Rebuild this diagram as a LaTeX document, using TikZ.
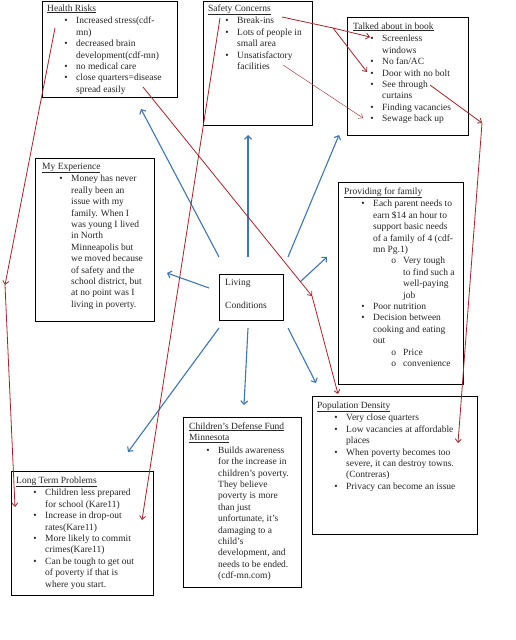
\documentclass[tikz,border=0pt]{standalone}
\usepackage{fontspec}
\setmainfont{Liberation Serif}
\usepackage{enumitem}
\usetikzlibrary{arrows.meta, shadows}
\definecolor{mapblue}{RGB}{62,118,176}
\definecolor{mapred}{RGB}{158,38,42}
\setlist[itemize]{nosep, leftmargin=29pt, labelsep=8.5pt}
\setlist[itemize,1]{label=\textbullet}
\setlist[itemize,2]{label=o, leftmargin=30pt, labelsep=7pt}
\newcommand{\boxtext}[2]{\begin{minipage}[t]{#1}\raggedright #2\end{minipage}}
\newcommand{\heading}[1]{\underline{#1}\par\vspace{1.5pt}}

\begin{document}
\begin{tikzpicture}[x=1pt, y=-1pt,
    box/.style={draw=black, line width=0.8pt, fill=white, anchor=north west,
      drop shadow={shadow xshift=1pt, shadow yshift=-1pt, fill=black!45, opacity=1}},
    notes/.style={inner sep=0pt, anchor=base west, font=\fontsize{9.5}{11.4}\selectfont, text=black!85},
    spoke/.style={draw=mapblue, line width=1.1pt, -{Straight Barb[length=3.5pt, width=7pt]}},
    link/.style={draw=mapred, line width=0.8pt, -{Straight Barb[length=3.5pt, width=6pt]}}]
  \useasboundingbox (0,0) rectangle (516,640);
  % boxes
  \node[box, minimum width=135pt, minimum height=96pt]  (health)   at (42,1)    {};
  \node[box, minimum width=109pt, minimum height=124pt] (safety)   at (203,1)   {};
  \node[box, minimum width=121pt, minimum height=118pt] (book)     at (347,17)  {};
  \node[box, minimum width=119pt, minimum height=163pt] (exper)    at (35,158)  {};
  \node[box, minimum width=125pt, minimum height=202pt] (provide)  at (338,182) {};
  \node[box, minimum width=64pt,  minimum height=46pt]  (living)   at (219,274) {};
  \node[box, minimum width=142pt, minimum height=124pt] (longterm) at (11,471)  {};
  \node[box, minimum width=118pt, minimum height=170pt] (cdf)      at (183,417) {};
  \node[box, minimum width=165pt, minimum height=138pt] (popul)    at (312,396) {};
  % texts
  \node[notes] (health-t) at (47,11) {\boxtext{150pt}{\heading{Health Risks}
    \begin{itemize}
      \item Increased stress(cdf-\\mn)
      \item decreased brain\\development(cdf-mn)
      \item no medical care
      \item close quarters=disease\\spread easily
    \end{itemize}}};
  \node[notes] (safety-t) at (208,11) {\boxtext{120pt}{\heading{Safety Concerns}
    \begin{itemize}
      \item Break-ins
      \item Lots of people in\\small area
      \item Unsatisfactory\\facilities
    \end{itemize}}};
  \node[notes] (book-t) at (353,29) {\boxtext{130pt}{\heading{Talked about in book}
    \begin{itemize}
      \item Screenless\\windows
      \item No fan/AC
      \item Door with no bolt
      \item See through\\curtains
      \item Finding vacancies
      \item Sewage back up
    \end{itemize}}};
  \node[notes] (exper-t) at (42,169) {\boxtext{130pt}{\heading{My Experience}
    \begin{itemize}
      \item Money has never\\really been an\\issue with my\\family. When I\\was young I lived\\in North\\Minneapolis but\\we moved because\\of safety and the\\school district, but\\at no point was I\\living in poverty.
    \end{itemize}}};
  \node[notes] (provide-t) at (344,194) {\boxtext{135pt}{\heading{Providing for family}
    \begin{itemize}
      \item Each parent needs to\\earn \$14 an hour to\\support basic needs\\of a family of 4 (cdf-\\mn Pg.1)
      \begin{itemize}
        \item Very tough\\to find such a\\well-paying\\job
      \end{itemize}
      \item Poor nutrition
      \item Decision between\\cooking and eating\\out
      \begin{itemize}
        \item Price
        \item convenience
      \end{itemize}
    \end{itemize}}};
  \node[notes] (living-t) at (225,285) {\boxtext{60pt}{Living\\[11.6pt]Conditions}};
  \node[notes] (longterm-t) at (16,483) {\boxtext{150pt}{\heading{Long Term Problems}
    \begin{itemize}
      \item Children less prepared\\for school (Kare11)
      \item Increase in drop-out\\rates(Kare11)
      \item More likely to commit\\crimes(Kare11)
      \item Can be tough to get out\\of poverty if that is\\where you start.
    \end{itemize}}};
  \node[notes] (cdf-t) at (189,429) {\boxtext{130pt}{\underline{Children’s Defense Fund}\\\heading{Minnesota}
    \begin{itemize}
      \item Builds awareness\\for the increase in\\children’s poverty.\\They believe\\poverty is more\\than just\\unfortunate, it’s\\damaging to a\\child’s\\development, and\\needs to be ended.\\(cdf-mn.com)
    \end{itemize}}};
  \node[notes] (popul-t) at (317,408) {\boxtext{175pt}{\heading{Population Density}
    \begin{itemize}
      \item Very close quarters
      \item Low vacancies at affordable\\places
      \item When poverty becomes too\\severe, it can destroy towns.\\(Contreras)
      \item Privacy can become an issue
    \end{itemize}}};
  % blue spokes out of Living Conditions
  \coordinate (s1) at (219,257); \coordinate (e1) at (141,109);
  \coordinate (s2) at (248,257); \coordinate (e2) at (248,135);
  \coordinate (s3) at (288,257); \coordinate (e3) at (339,135);
  \coordinate (s4) at (209,288); \coordinate (e4) at (167,273);
  \coordinate (s5) at (300,282); \coordinate (e5) at (327,257);
  \coordinate (s6) at (288,328); \coordinate (e6) at (316,383);
  \coordinate (s7) at (248,328); \coordinate (e7) at (244,405);
  \coordinate (s8) at (219,328); \coordinate (e8) at (128,452);
  \foreach \i in {1,...,8}
    \draw[spoke] (s\i) -- (e\i);
  % red links between notes
  \coordinate (hr-a) at (55,28);   \coordinate (hr-b) at (5,285);   \coordinate (lt-a) at (15,507);
  \coordinate (sc-a) at (220,18);  \coordinate (lt-b) at (142,520);
  \coordinate (hr-c) at (143,87);  \coordinate (hr-d) at (312,296); \coordinate (pd-a) at (338,394);
  \coordinate (bk-a) at (430,85);  \coordinate (bk-b) at (482,123); \coordinate (pd-b) at (458,443);
  \coordinate (sc-b) at (282,17);  \coordinate (sc-j) at (333,28);
  \coordinate (bk-c) at (370,37);  \coordinate (bk-d) at (367,72);
  \coordinate (sc-c) at (283,65);  \coordinate (bk-e) at (363,118);
  \draw[link] (hr-a) -- (hr-b);
  \draw[link] (hr-b) -- (lt-a);
  \draw[link] (sc-a) -- (lt-b);
  \draw[link] (hr-c) -- (hr-d);
  \draw[link] (hr-d) -- (pd-a);
  \draw[link] (bk-a) -- (bk-b);
  \draw[link] (bk-b) -- (pd-b);
  \draw[mapred, line width=0.8pt] (sc-b) -- (sc-j);
  \draw[link] (sc-j) -- (bk-c);
  \draw[link] (sc-j) -- (bk-d);
  \draw[link, line width=0.4pt] (sc-c) -- (bk-e);
\end{tikzpicture}
\end{document}
